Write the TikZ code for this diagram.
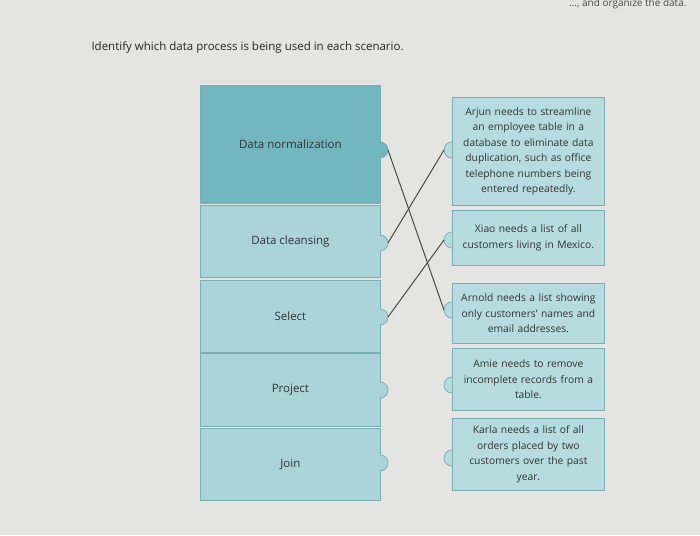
\documentclass[tikz,border=0pt]{standalone}
\usepackage{fontspec}
\setmainfont{Open Sans}
\definecolor{bg}{HTML}{E4E4E2}
\definecolor{dark}{HTML}{72B6C0}
\definecolor{light}{HTML}{AAD4D8}
\definecolor{lightr}{HTML}{B6DCDF}
\definecolor{edge}{HTML}{7AAFB5}
\definecolor{wire}{HTML}{4A4A44}
\begin{document}
\begin{tikzpicture}[x=1pt,y=-1pt,
  lbox/.style={draw=edge,fill=light,line width=0.8pt,minimum width=180pt,anchor=north west,inner sep=0pt,font=\fontsize{11.5}{13}\selectfont,text=black!80},
  rbox/.style={draw=edge,fill=lightr,line width=0.8pt,minimum width=152pt,text width=148pt,align=center,anchor=north west,inner sep=0pt,font=\fontsize{10.3}{15.5}\selectfont,text=black!80},
  wireline/.style={draw=wire,line width=1pt}]
\fill[bg] (0,0) rectangle (700,535);
\useasboundingbox (0,0) rectangle (700,535);
\node[anchor=east,font=\fontsize{10}{11}\selectfont,text=black!70] (top) at (690,4) {..., and organize the data.};
\node[anchor=west,font=\fontsize{11.5}{13}\selectfont,text=black!85] (q) at (88,47) {Identify which data process is being used in each scenario.};
\node[lbox,fill=dark,minimum height=118pt] (l1) at (200,85) {Data normalization};
\node[lbox,minimum height=72pt] (l2) at (200,205) {Data cleansing};
\node[lbox,minimum height=72pt] (l3) at (200,280) {Select};
\node[lbox,minimum height=73pt] (l4) at (200,353) {Project};
\node[lbox,minimum height=72pt] (l5) at (200,428) {Join};
\node[rbox,minimum height=108pt] (r1) at (452,97) {Arjun needs to streamline\\ an employee table in a\\ database to eliminate data\\ duplication, such as office\\ telephone numbers being\\ entered repeatedly.};
\node[rbox,minimum height=55pt] (r2) at (452,210) {Xiao needs a list of all\\ customers living in Mexico.};
\node[rbox,minimum height=60pt] (r3) at (452,283) {Arnold needs a list showing\\ only customers' names and\\ email addresses.};
\node[rbox,minimum height=62pt] (r4) at (452,348) {Amie needs to remove\\ incomplete records from a\\ table.};
\node[rbox,minimum height=72pt] (r5) at (452,418) {Karla needs a list of all\\ orders placed by two\\ customers over the past\\ year.};
% tabs
\foreach \y/\c in {150/dark,243/light,317/light,390/light,463/light}{
  \filldraw[draw=edge,fill=\c,line width=0.8pt] (380,\y) ++(0,-8) arc[start angle=-90,end angle=90,radius=8];
}
\foreach \y in {150,240,310,385,458}{
  \filldraw[draw=edge,fill=lightr,line width=0.8pt] (452,\y) ++(0,-8) arc[start angle=-90,end angle=-270,radius=8];
}
\coordinate (a1) at (388,150); \coordinate (a2) at (388,243); \coordinate (a3) at (388,317);
\coordinate (b1) at (444,150); \coordinate (b2) at (444,240); \coordinate (b3) at (444,310);
\draw[wireline] (a1) -- (b3);
\draw[wireline] (a2) -- (b1);
\draw[wireline] (a3) -- (b2);
\end{tikzpicture}
\end{document}
